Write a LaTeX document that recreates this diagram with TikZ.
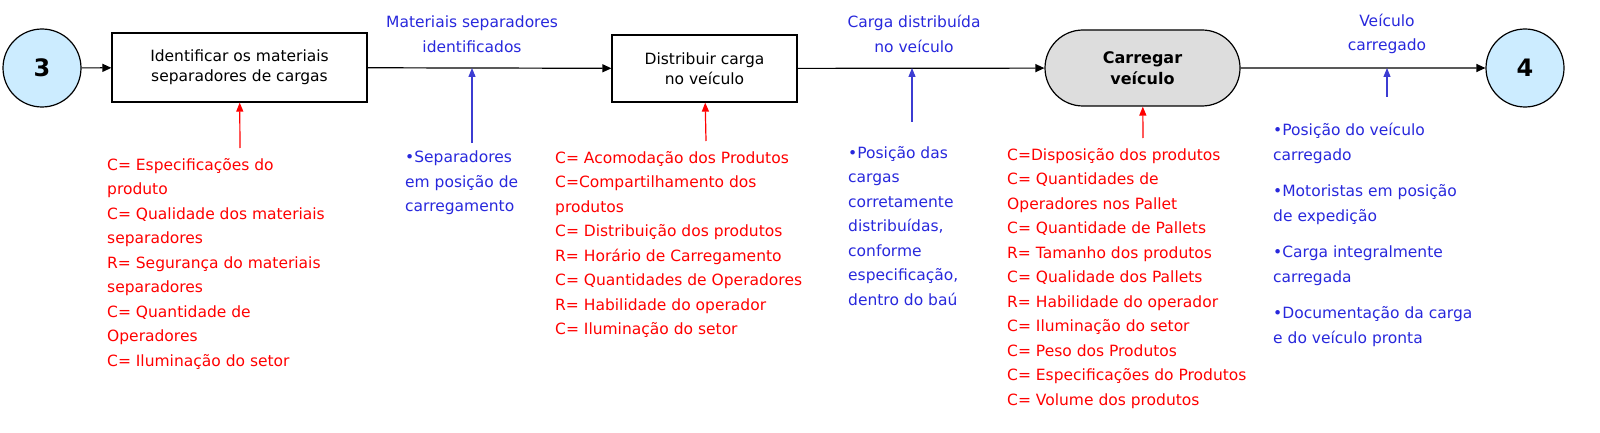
\documentclass[tikz,border=0pt]{standalone}
\usepackage{fontspec}
\setmainfont{DejaVu Sans}
\usetikzlibrary{arrows.meta,shapes.misc}
\begin{document}
\begin{tikzpicture}[x=1pt,y=-1pt,
  every node/.style={inner sep=0pt},
  txt/.style={font=\fontsize{15.5}{24.5}\selectfont,align=left,anchor=north west},
  redtxt/.style={txt,text=red},
  blutxt/.style={txt,text={rgb,255:red,40;green,40;blue,220}},
  lab/.style={font=\fontsize{15.5}{24.5}\selectfont,align=center,text={rgb,255:red,40;green,40;blue,220}},
  circ/.style={circle,draw,line width=1.2pt,fill={rgb,255:red,204;green,236;blue,255},minimum size=78pt,font=\fontsize{24}{24}\bfseries\selectfont},
  box/.style={draw,line width=1.2pt,fill=white,font=\fontsize{15.5}{20}\selectfont,align=center},
  flow/.style={line width=1.2pt,-{Triangle[length=9pt,width=8pt]}},
  rarr/.style={draw=red,line width=1.2pt,-{Triangle[length=9pt,width=7pt]}},
  barr/.style={draw={rgb,255:red,60;green,60;blue,210},line width=1.2pt,-{Triangle[length=9pt,width=7pt]}}]
\node[circ] (c3) at (42,68) {3};
\node[circ] (c4) at (1525,68) {4};
\node[box,minimum width=255pt,minimum height=69pt] (b1) at (239.5,67.5) {Identificar os materiais\\separadores de cargas};
\node[box,minimum width=185pt,minimum height=67pt] (b2) at (704.5,68.5) {Distribuir carga\\no veículo};
\node[box,rounded rectangle,fill={rgb,255:red,221;green,221;blue,221},minimum width=195pt,minimum height=76pt,font=\fontsize{16}{21}\bfseries\selectfont] (b3) at (1142.5,68) {Carregar\\veículo};
\draw[flow] (c3) -- (b1);
\draw[flow] (b1) -- (b2);
\draw[flow] (b2) -- (b3);
\draw[flow] (b3) -- (c4);
\node[lab] at (472,34) {Materiais separadores\\identificados};
\node[lab] at (914,34) {Carga distribuída\\no veículo};
\node[lab] at (1387,34) {Veículo\\carregado};
\coordinate (m1) at (472,68); \coordinate (m2) at (912,68); \coordinate (m3) at (1387,68);
\coordinate (s1) at (472,143); \coordinate (s2) at (912,122); \coordinate (s3) at (1387,97);
\draw[barr] (s1) -- (m1); \draw[barr] (s2) -- (m2); \draw[barr] (s3) -- (m3);
\coordinate (r1) at (240,148); \coordinate (r2) at (706,141); \coordinate (r3) at (1143,138);
\draw[rarr] (r1) -- (b1); \draw[rarr] (r2) -- (b2); \draw[rarr] (r3) -- (b3);
\node[redtxt] (t1) at (107,158) {C= Especificações do\\produto\\C= Qualidade dos materiais\\separadores\\R= Segurança do materiais\\separadores\\C= Quantidade de\\Operadores\\C= Iluminação do setor};
\node[redtxt] (t2) at (555,151) {C= Acomodação dos Produtos\\C=Compartilhamento dos\\produtos\\C= Distribuição dos produtos\\R= Horário de Carregamento\\C= Quantidades de Operadores\\R= Habilidade do operador\\C= Iluminação do setor};
\node[redtxt] (t3) at (1007,148) {C=Disposição dos produtos\\C= Quantidades de\\Operadores nos Pallet\\C= Quantidade de Pallets\\R= Tamanho dos produtos\\C= Qualidade dos Pallets\\R= Habilidade do operador\\C= Iluminação do setor\\C= Peso dos Produtos\\C= Especificações do Produtos\\C= Volume dos produtos};
\node[blutxt] (u1) at (405,151) {•Separadores\\em posição de\\carregamento};
\node[blutxt] (u2) at (848,146) {•Posição das\\cargas\\corretamente\\distribuídas,\\conforme\\especificação,\\dentro do baú};
\node[blutxt] (u3) at (1273,123) {•Posição do veículo\\carregado\\[12pt]•Motoristas em posição\\de expedição\\[12pt]•Carga integralmente\\carregada\\[12pt]•Documentação da carga\\e do veículo pronta};
\pgfresetboundingbox
\path[use as bounding box] (0,0) rectangle (1600,433);
\end{tikzpicture}
\end{document}
